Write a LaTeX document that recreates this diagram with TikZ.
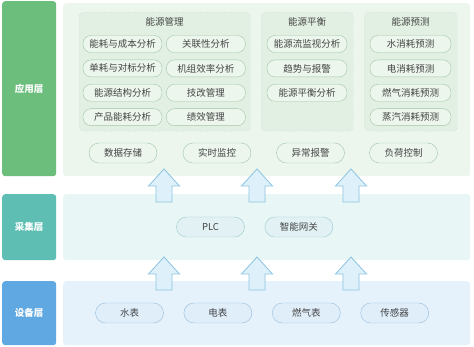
\documentclass[tikz,border=0pt]{standalone}
\usepackage{fontspec}
\setmainfont{Noto Sans CJK SC}
\usepackage{tikz}
\usetikzlibrary{positioning}
\definecolor{txtdark}{RGB}{68,68,68}
\definecolor{appgreen}{RGB}{108,190,125}
\definecolor{acqteal}{RGB}{94,190,180}
\definecolor{devblue}{RGB}{96,168,226}
\definecolor{apppanel}{RGB}{236,246,236}
\definecolor{acqpanel}{RGB}{232,246,245}
\definecolor{devpanel}{RGB}{230,242,251}
\definecolor{groupfill}{RGB}{226,240,227}
\definecolor{groupline}{RGB}{185,208,190}
\definecolor{apppillfill}{RGB}{236,246,237}
\definecolor{apppillline}{RGB}{160,198,168}
\definecolor{acqpillfill}{RGB}{226,242,244}
\definecolor{acqpillline}{RGB}{160,200,205}
\definecolor{devpillfill}{RGB}{224,238,250}
\definecolor{devpillline}{RGB}{150,188,220}
\definecolor{arrowfill}{RGB}{222,240,250}
\definecolor{arrowline}{RGB}{140,195,225}
\newcommand{\pillfont}{\fontsize{9.5}{11}\selectfont}
\tikzset{
  layerlabel/.style={rectangle,rounded corners=3pt,fill=#1,text=white,
    font=\pillfont\bfseries,minimum width=54pt,anchor=north west,inner sep=0pt},
  layerpanel/.style={rectangle,rounded corners=3pt,fill=#1,
    minimum width=407pt,anchor=north west,inner sep=0pt},
  groupbox/.style={rectangle,rounded corners=4pt,draw=groupline,dotted,
    fill=groupfill,anchor=north west,minimum height=119pt,inner sep=0pt},
  grouptitle/.style={font=\pillfont,text=txtdark,inner sep=0pt},
  pill/.style={rectangle,rounded corners=8pt,draw=#1pillline,fill=#1pillfill,
    font=\pillfont,text=txtdark,inner sep=0pt},
  apppill/.style={pill=app,minimum width=79pt,minimum height=17pt},
  basepill/.style={pill=#1,minimum width=68pt,minimum height=20pt,
    rounded corners=10pt},
  blockarrow/.style={draw=arrowline,fill=arrowfill,line width=0.8pt,
    line join=miter},
}
\begin{document}
\begin{tikzpicture}[x=1pt,y=-1pt]
\useasboundingbox (0,0) rectangle (474,347);

%% -- layers ----------------------------------------------------------------
\node[layerlabel=appgreen,minimum height=175pt] (appl) at (2,1) {应用层};
\node[layerpanel=apppanel,minimum height=173pt] (appp) at (63,3) {};
\node[layerlabel=acqteal,minimum height=66pt] (acql) at (2,194) {采集层};
\node[layerpanel=acqpanel,minimum height=66pt] (acqp) at (63,194) {};
\node[layerlabel=devblue,minimum height=64pt] (devl) at (2,281) {设备层};
\node[layerpanel=devpanel,minimum height=64pt] (devp) at (63,281) {};

%% -- 能源管理 ---------------------------------------------------------------
\node[groupbox,minimum width=171pt] (mg) at (79,12) {};
\node[grouptitle] (mgt) at ([yshift=-10pt]mg.north) {能源管理};
\node[apppill] (mga1) at (122.5,44) {能耗与成本分析};
\node[apppill,right=4pt of mga1] (mgb1) {关联性分析};
\node[apppill,below=7pt of mga1] (mga2) {单耗与对标分析};
\node[apppill,right=4pt of mga2] (mgb2) {机组效率分析};
\node[apppill,below=7pt of mga2] (mga3) {能源结构分析};
\node[apppill,right=4pt of mga3] (mgb3) {技改管理};
\node[apppill,below=7pt of mga3] (mga4) {产品能耗分析};
\node[apppill,right=4pt of mga4] (mgb4) {绩效管理};

%% -- 能源平衡 ---------------------------------------------------------------
\node[groupbox,minimum width=92pt] (bl) at (261,12) {};
\node[grouptitle] (blt) at ([yshift=-10pt]bl.north) {能源平衡};
\node[apppill,minimum width=80pt] (bl1) at (307,44) {能源流监视分析};
\node[apppill,minimum width=80pt,below=7pt of bl1] (bl2) {趋势与报警};
\node[apppill,minimum width=80pt,below=7pt of bl2] (bl3) {能源平衡分析};

%% -- 能源预测 ---------------------------------------------------------------
\node[groupbox,minimum width=93pt] (fc) at (364,12) {};
\node[grouptitle] (fct) at ([yshift=-10pt]fc.north) {能源预测};
\node[apppill,minimum width=81pt] (fc1) at (410.5,44) {水消耗预测};
\node[apppill,minimum width=81pt,below=7pt of fc1] (fc2) {电消耗预测};
\node[apppill,minimum width=81pt,below=7pt of fc2] (fc3) {燃气消耗预测};
\node[apppill,minimum width=81pt,below=7pt of fc3] (fc4) {蒸汽消耗预测};

%% -- application base row ----------------------------------------------------
\node[basepill=app] (store) at (123,153) {数据存储};
\node[basepill=app] (watch) at (217,153) {实时监控};
\node[basepill=app] (alarm) at (310.5,153) {异常报警};
\node[basepill=app] (load) at (403.5,153) {负荷控制};

%% -- acquisition ---------------------------------------------------------------
\node[basepill=acq] (plc) at (210.5,227) {PLC};
\node[basepill=acq,right=20pt of plc] (gw) {智能网关};

%% -- devices -------------------------------------------------------------------
\node[basepill=dev] (water) at (129.5,313) {水表};
\node[basepill=dev,right=20pt of water] (power) {电表};
\node[basepill=dev,right=20pt of power] (gas) {燃气表};
\node[basepill=dev,right=20pt of gas] (sensor) {传感器};

%% -- block arrows between layers ------------------------------------------------
\foreach \cx in {164,257,351}{
  \foreach \ty in {169,257}{
    \draw[blockarrow] (\cx,\ty) -- (\cx+15.5,\ty+17) -- (\cx+8,\ty+17)
      -- (\cx+8,\ty+33) -- (\cx-8,\ty+33) -- (\cx-8,\ty+17)
      -- (\cx-15.5,\ty+17) -- cycle;
  }
}

\end{tikzpicture}
\end{document}
